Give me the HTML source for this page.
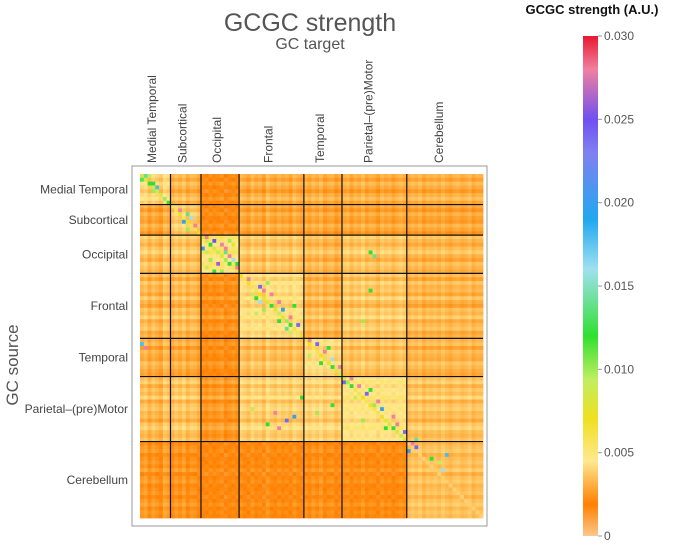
<!DOCTYPE html>
<html><head><meta charset="utf-8">
<style>
html,body{margin:0;padding:0;background:#fff;}
body{width:685px;height:543px;overflow:hidden;font-family:"Liberation Sans",sans-serif;}
</style></head>
<body>
<svg id="chart" width="685" height="543" xmlns="http://www.w3.org/2000/svg">
  <text x="310" y="31" text-anchor="middle" font-size="25" fill="#555">GCGC strength</text>
  <text x="310" y="49" text-anchor="middle" font-size="16" fill="#555">GC target</text>
  <text transform="translate(18,365) rotate(-90)" text-anchor="middle" font-size="17" fill="#555">GC source</text>
  <rect x="132" y="166" width="355" height="360" fill="#fff" stroke="#999" stroke-width="1"/>
  <g id="cells"></g>
  <g id="grid"></g>
  <g id="xlabels"></g>
  <g id="ylabels"></g>
  <text x="592" y="14" text-anchor="middle" font-size="13" font-weight="bold" fill="#111">GCGC strength (A.U.)</text>
  <defs><linearGradient id="cbgrad" x1="0" y1="1" x2="0" y2="0"></linearGradient></defs>
  <rect x="583" y="36" width="15" height="500" fill="url(#cbgrad)"/>
  <g id="cbticks"></g>
</svg>
<script>
const groups = ["Medial Temporal","Subcortical","Occipital","Frontal","Temporal","Parietal\u2013(pre)Motor","Cerebellum"];
const groupSizes = [8,8,10,17,10,17,20];
// block means (x0.001), rows = source, cols = target
const blockMean = [
 [3.8,3.0,1.9,2.8,2.8,2.8,2.9],
 [2.7,3.6,1.9,2.7,2.7,2.7,2.7],
 [3.2,3.3,4.8,3.3,3.0,3.3,3.0],
 [3.0,3.0,2.0,4.0,3.0,3.4,3.0],
 [2.8,2.7,2.0,3.2,4.0,3.3,3.0],
 [3.0,3.2,2.2,3.5,3.6,4.2,3.2],
 [2.3,2.2,1.9,1.9,2.1,2.0,3.4]
];
const rowOff = [0.3,-0.2,0.5,0.1,-0.4,0.2,0.6,-0.1, 0.2,-0.3,0.4,0.0,-0.2,0.5,0.1,-0.4, 0.6,0.2,-0.2,0.4,0.8,0.1,-0.3,0.5,0.2,-0.1, 0.4,-0.3,0.6,0.1,0.3,-0.2,0.7,0.0,-0.4,0.5,0.2,0.8,-0.1,0.3,0.6,-0.2,0.1, 0.2,0.5,-0.3,0.4,0.1,-0.1,0.6,0.3,0.0,-0.2, 0.3,0.7,-0.1,0.5,0.2,0.9,-0.2,0.4,0.6,0.1,0.3,-0.3,0.5,0.8,0.2,0.0,0.4, -0.2,0.1,0.3,-0.3,0.0,0.2,-0.1,0.4,-0.4,0.1,0.3,-0.2,0.0,0.2,-0.3,0.1,0.4,-0.1,0.2,0.0];
const colOff = [0.1,0.4,-0.2,0.3,0.0,-0.3,0.5,0.2, -0.1,0.3,0.0,0.4,-0.2,0.2,0.1,-0.3, 0.0,-0.2,0.2,-0.1,0.1,0.3,-0.3,0.0,0.2,-0.1, 0.3,0.1,-0.2,0.4,0.0,0.2,-0.3,0.5,0.1,-0.1,0.3,0.0,0.2,-0.2,0.4,0.1,-0.1, 0.2,-0.1,0.3,0.0,0.4,-0.2,0.1,0.2,-0.3,0.0, 0.1,0.3,-0.2,0.2,0.0,0.4,-0.1,0.2,0.1,-0.3,0.3,0.0,0.2,-0.2,0.1,0.3,0.0, -0.1,0.2,0.0,0.3,-0.2,0.1,0.0,0.2,-0.1,0.3,0.0,-0.2,0.1,0.2,-0.1,0.0,0.3,-0.2,0.1,0.0];
// hot cells: [row, col, value x0.001]
const hotCells = [
 [0,1,14],[1,0,13],[2,3,12],[3,4,18],[4,3,10],[0,2,9],
 [9,10,28],[10,12,14],[11,13,16],[12,11,20],[13,14,28],[14,12,10],
 [16,17,28],[17,19,25],[18,21,28],[19,16,20],[20,22,14],[21,23,28],[22,18,10],[23,20,26],[24,25,28],[25,19,12],[17,23,10],[20,17,9],[22,24,16],[18,24,8],[24,17,9],[19,22,28],[23,25,12],[25,21,10],
 [27,28,28],[29,31,24],[30,32,28],[31,34,28],[32,30,12],[33,36,28],[35,37,20],[37,39,28],[39,41,24],[40,38,14],[28,33,10],[34,40,12],[36,30,9],[38,58,10],[30,60,12],[31,29,9],[33,31,16],[35,32,10],[38,36,12],[41,39,9],
 [43,44,28],[44,46,24],[46,48,28],[48,50,16],[50,52,28],[45,49,12],[44,0,18],[45,1,28],[47,44,9],[49,47,12],
 [53,55,28],[55,57,28],[57,59,24],[59,62,28],[61,63,20],[63,66,28],[65,67,28],[67,69,24],[56,60,12],[64,58,10],[54,53,24],[58,56,9],[60,61,10],[66,64,12],
 [62,35,28],[64,38,24],[65,33,12],[60,50,12],[63,40,20],[62,46,10],[20,60,12],[21,61,14],[61,29,9],[66,36,28],[58,42,12],
 [69,72,14],[70,71,28],[71,72,24],[72,70,20],[74,76,12],[77,79,16],[73,80,18],[75,78,9]
];
const diagVals = [8,8,12,8,9,8,10,12,6,6,7,6,7,6,6,7];
const tickVals = [0,0.005,0.010,0.015,0.020,0.025,0.030];
const tickLabels = ["0","0.005","0.010","0.015","0.020","0.025","0.030"];
const stops = [[0,"#fcc88c"],[0.0019,"#ff8000"],[0.0045,"#ffe890"],[0.007,"#f0e020"],[0.0094,"#c0ee60"],[0.012,"#30e030"],[0.016,"#a0e0f0"],[0.019,"#20a8f0"],[0.023,"#8080f0"],[0.025,"#7050f0"],[0.028,"#f080a0"],[0.030,"#e81830"]];

function hex(c){return [parseInt(c.substr(1,2),16),parseInt(c.substr(3,2),16),parseInt(c.substr(5,2),16)];}
function color(v){
  if(v<=stops[0][0]) return stops[0][1];
  for(let k=1;k<stops.length;k++){
    if(v<=stops[k][0]){
      const t=(v-stops[k-1][0])/(stops[k][0]-stops[k-1][0]);
      const a=hex(stops[k-1][1]),b=hex(stops[k][1]);
      return "rgb("+a.map((x,i)=>Math.round(x+(b[i]-x)*t)).join(",")+")";
    }
  }
  return stops[stops.length-1][1];
}
const N = groupSizes.reduce((a,b)=>a+b,0);
const X0=140, Y0=174, W=343, H=344;
const cw=W/N, ch=H/N;
function xPos(j){return X0+j*cw;}
function yPos(i){return Y0+i*ch;}
const gOf=[]; groupSizes.forEach((s,g)=>{for(let k=0;k<s;k++) gOf.push(g);});
const M=[];
for(let i=0;i<N;i++){M.push([]);for(let j=0;j<N;j++){
  let v=blockMean[gOf[i]][gOf[j]]+(rowOff[i]||0)+(colOff[j]||0);
  if(i===j) v = gOf[i]===6 ? 3.9 : (diagVals[i%diagVals.length]);
  M[i].push(Math.max(0,v)/1000);
}}
hotCells.forEach(h=>{if(h[0]<N&&h[1]<N) M[h[0]][h[1]]=h[2]/1000;});
const NS="http://www.w3.org/2000/svg";
const cells=document.getElementById("cells");
for(let i=0;i<N;i++)for(let j=0;j<N;j++){
  const r=document.createElementNS(NS,"rect");
  
  
  r.setAttribute("x",xPos(j).toFixed(2));r.setAttribute("y",yPos(i).toFixed(2));
  r.setAttribute("width",(cw+0.4).toFixed(2));r.setAttribute("height",(ch+0.4).toFixed(2));
  r.setAttribute("fill",color(M[i][j]));
  cells.appendChild(r);
}
const grid=document.getElementById("grid");
const xl=document.getElementById("xlabels"), yl=document.getElementById("ylabels");
let cum=0;
groupSizes.forEach((s,g)=>{
  const start=cum; cum+=s;
  if(g<groupSizes.length-1){
    const lv=document.createElementNS(NS,"line");
    
    
    lv.setAttribute("x1",xPos(cum));lv.setAttribute("x2",xPos(cum));lv.setAttribute("y1",Y0);lv.setAttribute("y2",Y0+H);
    lv.setAttribute("stroke","#111");lv.setAttribute("stroke-width","1.2");grid.appendChild(lv);
    const lh=document.createElementNS(NS,"line");
    
    
    lh.setAttribute("y1",yPos(cum));lh.setAttribute("y2",yPos(cum));lh.setAttribute("x1",X0);lh.setAttribute("x2",X0+W);
    lh.setAttribute("stroke","#111");lh.setAttribute("stroke-width","1.2");grid.appendChild(lh);
  }
  const tx=document.createElementNS(NS,"text");
  
  
  tx.setAttribute("transform","translate("+(xPos(start+s/2)+(g>4?-2:1)).toFixed(1)+",163) rotate(-90)");
  tx.setAttribute("font-size","12");tx.setAttribute("fill","#444");
  tx.textContent=groups[g];xl.appendChild(tx);
  const ty=document.createElementNS(NS,"text");
  
  
  ty.setAttribute("x","128");ty.setAttribute("y",(yPos(start+s/2)+4).toFixed(1));
  ty.setAttribute("text-anchor","end");ty.setAttribute("font-size","12");ty.setAttribute("fill","#444");
  ty.textContent=groups[g];yl.appendChild(ty);
});
const grad=document.getElementById("cbgrad");
stops.forEach(s=>{const st=document.createElementNS(NS,"stop");st.setAttribute("offset",(s[0]/0.03));st.setAttribute("stop-color",s[1]);grad.appendChild(st);});
const cbt=document.getElementById("cbticks");
function cbY(v){return 536-v/0.03*500;}
tickVals.forEach((v,k)=>{
  const l=document.createElementNS(NS,"line");
  
  
  l.setAttribute("x1",598);l.setAttribute("x2",602);l.setAttribute("y1",cbY(v));l.setAttribute("y2",cbY(v));l.setAttribute("stroke","#999");cbt.appendChild(l);
  const t=document.createElementNS(NS,"text");
  
  
  t.setAttribute("x",604);t.setAttribute("y",cbY(v)+4);t.setAttribute("font-size","12");t.setAttribute("fill","#555");
  t.textContent=tickLabels[k];cbt.appendChild(t);
});
</script>
</body></html>
